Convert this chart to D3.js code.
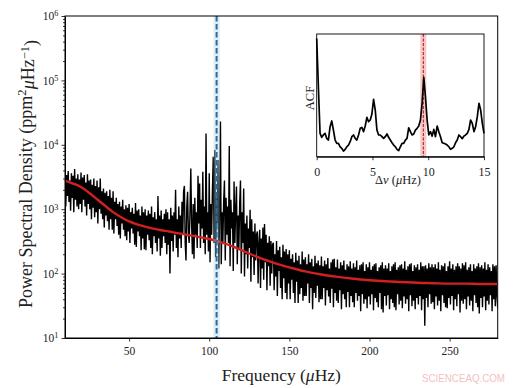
<!DOCTYPE html>
<html>
<head>
<meta charset="utf-8">
<script src="https://cdn.jsdelivr.net/npm/d3@7"></script>
<style>
body { margin: 0; background: #fff; }
svg { display: block; font-family: "Liberation Serif", "DejaVu Serif", serif; }
</style>
</head>
<body>
<div id="app"></div>
<script>
// power spectrum, one value every 0.5 muHz from 10 to 280 (one row = 10 muHz)
const psdPower = [
  5800, 1100, 3400, 1600, 3900, 1300, 2800, 950, 3600, 1500, 3300, 900, 4200, 1400, 3000, 1100, 3500, 1000, 2900, 1200,
  3700, 900, 3100, 1400, 3400, 1100, 2600, 800, 3500, 1200, 2800, 1000, 2900, 700, 2400, 1050, 3000, 750, 2300, 900,
  2800, 600, 2200, 1000, 3000, 850, 1900, 700, 2100, 520, 1800, 800, 1900, 650, 1600, 480, 2000, 700, 1500, 480,
  1900, 420, 1300, 700, 1500, 550, 1200, 400, 1300, 350, 1100, 600, 1400, 480, 1000, 380, 1150, 330, 1050, 450,
  1200, 300, 900, 500, 1050, 420, 850, 280, 1250, 260, 950, 450, 1000, 380, 800, 230, 1100, 350, 900, 240,
  1000, 230, 800, 400, 950, 330, 850, 250, 1100, 200, 750, 380, 900, 300, 700, 220, 1600, 350, 800, 190,
  950, 250, 700, 380, 850, 300, 1000, 200, 900, 280, 700, 100, 1050, 320, 800, 220, 900, 400, 2000, 250,
  700, 180, 1100, 350, 800, 250, 1300, 400, 1900, 2300, 300, 160, 1100, 1870, 400, 300, 900, 4300, 600, 200,
  1200, 170, 1500, 400, 900, 250, 3300, 600, 2500, 250, 1400, 500, 3800, 300, 1100, 200, 15000, 400, 900, 220,
  3600, 150, 1200, 400, 2000, 6500, 300, 8300, 180, 1500, 600, 5800, 120, 1000, 23000, 140, 900, 300, 1300, 2800,
  160, 1500, 400, 1100, 300, 9600, 130, 1400, 500, 900, 110, 2700, 300, 1000, 2250, 140, 800, 250, 1200, 2800,
  100, 900, 300, 2100, 90, 600, 200, 800, 120, 500, 250, 980, 75, 700, 180, 450, 95, 600, 160, 400,
  450, 70, 300, 480, 60, 350, 120, 520, 80, 590, 150, 400, 55, 300, 130, 380, 65, 320, 100, 280,
  300, 55, 200, 90, 320, 45, 230, 110, 260, 60, 180, 40, 280, 85, 220, 50, 240, 40, 200, 70,
  230, 40, 170, 80, 200, 50, 150, 35, 210, 75, 160, 35, 190, 48, 140, 60, 220, 38, 165, 45,
  180, 45, 140, 70, 200, 35, 150, 60, 170, 28, 130, 50, 190, 42, 145, 65, 160, 36, 135, 40,
  185, 40, 130, 60, 160, 32, 140, 55, 175, 44, 120, 35, 150, 58, 165, 30, 170, 50, 125, 38,
  165, 35, 120, 55, 150, 28, 135, 48, 160, 40, 115, 30, 140, 52, 130, 30, 155, 45, 120, 36,
  145, 30, 125, 50, 160, 38, 115, 45, 135, 26, 140, 48, 150, 34, 110, 40, 140, 29, 125, 44,
  150, 33, 115, 48, 130, 27, 140, 42, 145, 36, 110, 30, 125, 50, 135, 28, 150, 25, 120, 45,
  135, 32, 120, 46, 145, 28, 110, 40, 130, 35, 140, 30, 150, 27, 115, 48, 125, 33, 135, 38,
  140, 29, 120, 44, 155, 34, 115, 40, 130, 26, 140, 46, 145, 31, 110, 38, 135, 28, 125, 42,
  140, 33, 115, 45, 150, 27, 130, 40, 130, 15.5, 135, 42, 120, 30, 145, 48, 125, 34, 140, 36,
  125, 28, 140, 44, 120, 32, 150, 38, 115, 26, 135, 46, 130, 35, 145, 30, 110, 29, 130, 42,
  155, 33, 120, 45, 140, 27, 115, 40, 130, 31, 145, 48, 130, 25, 120, 38, 145, 34, 135, 40,
  150, 28, 115, 44, 125, 32, 140, 38, 110, 26, 140, 46, 120, 35, 130, 30, 145, 24, 125, 42,
  135, 30, 120, 44, 150, 27, 115, 38, 140, 33, 125, 46, 110, 26, 140, 40, 130, 31, 135, 45, 29
];
const psdStep = 0.5;
const psdFreq = psdPower.map((d, i) => 10 + i * psdStep);

// smooth background fit
const bgFreq = [10, 15, 20, 25, 30, 35, 40, 45, 50, 55, 60, 65, 70, 75, 80, 85, 90, 95, 100,
  105, 110, 115, 120, 125, 130, 135, 140, 145, 150, 160, 170, 180, 190, 200, 210, 220,
  230, 240, 250, 260, 270, 280];
const bgPower = [2770, 2500, 2210, 1800, 1430, 1130, 900, 750, 645, 580, 535, 500, 472, 450,
  425, 405, 385, 365, 345, 320, 292, 262, 232, 205, 182, 163, 148, 135, 125, 108, 97, 89,
  83, 79, 76, 74, 72, 71, 70, 70, 69, 69];

const numax = 104.6, numaxErr = 1.9;

// inset: autocorrelation, lag step 0.15 muHz
const acfStep = 0.15;
const acfPower = [
  0.964, 0.570, 0.190, 0.158, 0.177, 0.190, 0.149, 0.136, 0.245, 0.291,
  0.217, 0.136, 0.109, 0.109, 0.081, 0.068, 0.046, 0.060, 0.081, 0.095,
  0.122, 0.163, 0.177, 0.149, 0.136, 0.177, 0.231, 0.239, 0.204, 0.250,
  0.321, 0.285, 0.299, 0.348, 0.467, 0.380, 0.217, 0.177, 0.177, 0.163,
  0.149, 0.163, 0.185, 0.158, 0.136, 0.114, 0.095, 0.081, 0.060, 0.049,
  0.081, 0.109, 0.109, 0.136, 0.149, 0.236, 0.204, 0.177, 0.185, 0.217,
  0.231, 0.250, 0.299, 0.435, 0.647, 0.489, 0.299, 0.177, 0.204, 0.168,
  0.223, 0.163, 0.250, 0.204, 0.163, 0.114, 0.109, 0.103, 0.095, 0.081,
  0.060, 0.068, 0.081, 0.114, 0.136, 0.177, 0.163, 0.147, 0.168, 0.177,
  0.190, 0.223, 0.299, 0.272, 0.204, 0.245, 0.326, 0.435, 0.380, 0.272, 0.190
];
const dnu = 9.56, dnuErr = 0.27;

const xTicks = [50, 100, 150, 200, 250];
const yTicks = [1e1, 1e2, 1e3, 1e4, 1e5, 1e6];
const acfTicks = [0, 5, 10, 15];

const W = 521, H = 388;
const m = { left: 65, right: 497.7, top: 16, bottom: 338 };
const ins = { left: 316.7, right: 484, top: 34, bottom: 156.7 };

const svg = d3.select('#app').append('svg')
  .attr('width', W).attr('height', H);

const x = d3.scaleLinear().domain([10, 280]).range([m.left, m.right]);
const y = d3.scaleLog().domain([10, 1e6]).range([m.bottom, m.top]);

svg.append('clipPath').attr('id', 'clip')
  .append('rect')
  .attr('x', m.left).attr('y', m.top)
  .attr('width', m.right - m.left).attr('height', m.bottom - m.top);

const plot = svg.append('g').attr('clip-path', 'url(#clip)');

let psdLine = d3.line()
  .x((d, i) => x(psdFreq[i]))
  .y((d) => y(d));

plot.append('path')
  .attr('fill', 'none')
  .attr('stroke', '#000')
  .attr('stroke-width', 1.4)
  .attr('stroke-linejoin', 'bevel')
  .attr('d', psdLine(psdPower));

let bgLine = d3.line()
  .curve(d3.curveMonotoneX)
  .x((d, i) => x(bgFreq[i]))
  .y((d) => y(d));

plot.append('path')
  .attr('fill', 'none')
  .attr('stroke', '#d02020')
  .attr('stroke-width', 2.4)
  .attr('d', bgLine(bgPower));

plot.append('rect')
  .attr('x', x(numax - numaxErr)).attr('y', m.top)
  .attr('width', x(numax + numaxErr) - x(numax - numaxErr))
  .attr('height', m.bottom - m.top)
  .attr('fill', '#9ecae1').attr('opacity', 0.35);

plot.append('line')
  .attr('x1', x(numax)).attr('x2', x(numax))
  .attr('y1', m.top).attr('y2', m.bottom)
  .attr('stroke', '#2b6c9e').attr('stroke-width', 2)
  .attr('stroke-dasharray', '5.5,2.5');

// axes
let xg = svg.append('g')
  .attr('transform', 'translate(0,' + m.bottom + ')')
  .call(d3.axisBottom(x).tickValues(xTicks).tickSize(3.5).tickSizeOuter(0).tickPadding(5.5));

let yg = svg.append('g')
  .attr('transform', 'translate(' + m.left + ',0)')
  .call(d3.axisLeft(y).tickValues(yTicks).tickSize(3.5).tickSizeOuter(0).tickPadding(3).tickFormat(''));

let minor = [];
yTicks.slice(0, -1).forEach((t) => { for (let k = 2; k < 10; k++) minor.push(t * k); });
svg.append('g')
  .attr('transform', 'translate(' + m.left + ',0)')
  .call(d3.axisLeft(y).tickValues(minor).tickSize(2).tickSizeOuter(0).tickFormat(''))
  .call((g) => g.select('.domain').remove());

yg.selectAll('.tick text').each(function (d) {
  const t = d3.select(this);
  t.append('tspan').text('10');
  t.append('tspan').attr('dy', '-0.45em').attr('font-size', '0.72em')
    .text(Math.round(Math.log10(d)));
});

svg.selectAll('.tick text')
  .attr('font-family', '"Liberation Serif", serif')
  .attr('font-size', 11.5)
  .attr('fill', '#222');
svg.selectAll('.tick line').attr('stroke', '#000').attr('stroke-width', 0.8);

svg.append('rect')
  .attr('x', m.left).attr('y', m.top)
  .attr('width', m.right - m.left).attr('height', m.bottom - m.top)
  .attr('fill', 'none').attr('stroke', '#000').attr('stroke-width', 1);

svg.append('text')
  .attr('x', (m.left + m.right) / 2).attr('y', 381)
  .attr('text-anchor', 'middle')
  .attr('font-size', 17.5).attr('fill', '#222')
  .call((t) => {
    t.append('tspan').text('Frequency (');
    t.append('tspan').attr('font-style', 'italic').text('μ');
    t.append('tspan').text('Hz)');
  });

svg.append('text')
  .attr('transform', 'translate(32,174) rotate(-90)')
  .attr('text-anchor', 'middle')
  .attr('font-size', 18).attr('fill', '#222')
  .call((t) => {
    t.append('tspan').text('Power Spectral Density (ppm');
    t.append('tspan').attr('dy', '-0.45em').attr('font-size', '0.7em').text('2');
    t.append('tspan').attr('dy', '0.45em').attr('font-style', 'italic').text('μ');
    t.append('tspan').text('Hz');
    t.append('tspan').attr('dy', '-0.45em').attr('font-size', '0.7em').text('−1');
    t.append('tspan').attr('dy', '0.45em').text(')');
  });

// inset
const ix = d3.scaleLinear().domain([0, 15]).range([ins.left, ins.right]);
const iy = d3.scaleLinear().domain([0, 1]).range([ins.bottom, ins.top]);

svg.append('rect')
  .attr('x', ins.left).attr('y', ins.top)
  .attr('width', ins.right - ins.left).attr('height', ins.bottom - ins.top)
  .attr('fill', '#fff');

svg.append('rect')
  .attr('x', ix(dnu - dnuErr)).attr('y', ins.top)
  .attr('width', ix(dnu + dnuErr) - ix(dnu - dnuErr))
  .attr('height', ins.bottom - ins.top)
  .attr('fill', '#f07070').attr('opacity', 0.4);

svg.append('line')
  .attr('x1', ix(dnu)).attr('x2', ix(dnu))
  .attr('y1', ins.top).attr('y2', ins.bottom)
  .attr('stroke', '#a01818').attr('stroke-width', 1)
  .attr('stroke-dasharray', '3,1.5');

let acfLine = d3.line()
  .x((d, i) => ix(i * acfStep))
  .y((d) => iy(d));

svg.append('path')
  .attr('fill', 'none').attr('stroke', '#000').attr('stroke-width', 1.7)
  .attr('stroke-linejoin', 'round')
  .attr('d', acfLine(acfPower));

let ixg = svg.append('g')
  .attr('transform', 'translate(0,' + ins.bottom + ')')
  .call(d3.axisBottom(ix).tickValues(acfTicks).tickSize(3.5).tickSizeOuter(0).tickPadding(7));
ixg.selectAll('.tick text')
  .attr('font-family', '"Liberation Serif", serif')
  .attr('font-size', 12).attr('fill', '#222');
ixg.selectAll('.tick line').attr('stroke', '#000').attr('stroke-width', 0.8);

svg.append('rect')
  .attr('x', ins.left).attr('y', ins.top)
  .attr('width', ins.right - ins.left).attr('height', ins.bottom - ins.top)
  .attr('fill', 'none').attr('stroke', '#000').attr('stroke-width', 0.9);

svg.append('text')
  .attr('x', 398).attr('y', 184)
  .attr('text-anchor', 'middle')
  .attr('font-size', 12.5).attr('fill', '#222')
  .call((t) => {
    t.append('tspan').text('Δ');
    t.append('tspan').attr('font-style', 'italic').text('ν');
    t.append('tspan').text(' (');
    t.append('tspan').attr('font-style', 'italic').text('μ');
    t.append('tspan').text('Hz)');
  });

svg.append('text')
  .attr('transform', 'translate(314,98) rotate(-90)')
  .attr('text-anchor', 'middle')
  .attr('font-size', 12.5).attr('fill', '#222')
  .text('ACF');

// watermark
svg.append('text')
  .attr('x', 422).attr('y', 382)
  .attr('font-family', '"Liberation Sans", Arial, sans-serif')
  .attr('font-size', 11)
  .attr('textLength', 83).attr('lengthAdjust', 'spacingAndGlyphs')
  .attr('fill', '#f2c2c2')
  .text('SCIENCEAQ.COM');
</script>
</body>
</html>
